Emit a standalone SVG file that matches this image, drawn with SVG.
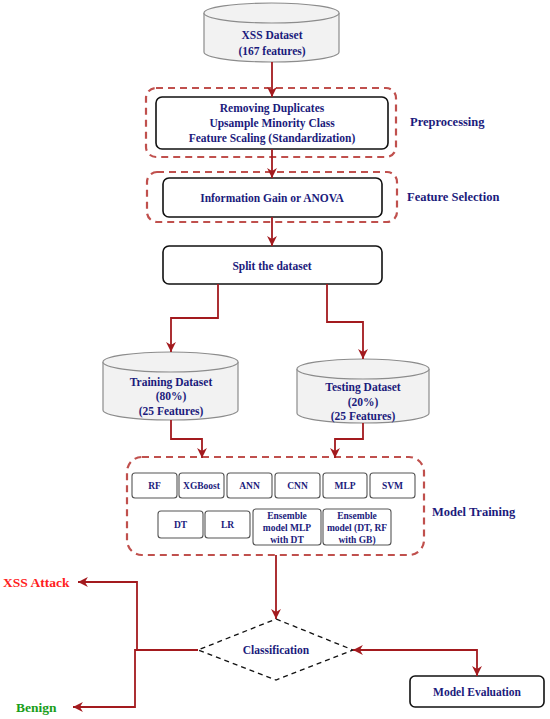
<svg xmlns="http://www.w3.org/2000/svg" width="550" height="719" viewBox="0 0 550 719">
<defs>
<style>
.t{font-family:"Liberation Serif","Times New Roman",serif;font-weight:bold;fill:#1b1b7c;text-anchor:middle;dominant-baseline:central}
.m{font-size:11.5px}
.s{font-size:9.5px}
.lab{font-family:"Liberation Serif","Times New Roman",serif;font-weight:bold;fill:#1b1b7c;font-size:12.5px;dominant-baseline:central}
.out{font-family:"Liberation Serif","Times New Roman",serif;font-weight:bold;font-size:13.5px;dominant-baseline:central}
.cyl{fill:#f2f2f2;stroke:#8c8c8c;stroke-width:1.2}
.dash{fill:none;stroke:#c0504d;stroke-width:2.2;stroke-dasharray:7 5}
.box{fill:#fff;stroke:#111;stroke-width:1.6}
.mbox{fill:#fff;stroke:#555;stroke-width:1.1}
.con{fill:none;stroke:#a31a1e;stroke-width:1.8}
</style>
<marker id="ah" viewBox="0 0 10 10" refX="10" refY="5" markerWidth="5.5" markerHeight="5.5" orient="auto-start-reverse" markerUnits="strokeWidth">
<path d="M0,0 L10,5 L0,10 L3,5 Z" fill="#a31a1e"/>
</marker>
</defs>
<rect width="550" height="719" fill="#fff"/>

<g id="xss-dataset">
<path class="cyl" d="M204,13 A67.5,10 0 0 1 339,13 V52 A67.5,10 0 0 1 204,52 Z"/>
<path class="cyl" fill="none" d="M204,13 A67.5,10 0 0 0 339,13"/>
<text class="t m" x="272" y="35">XSS Dataset</text>
<text class="t m" x="272" y="51">(167 features)</text>
</g>

<g id="preprocessing">
<rect class="dash" x="146" y="88" width="250" height="69" rx="10"/>
<rect class="box" x="156" y="97" width="232" height="52" rx="6"/>
<text class="t m" x="272" y="108">Removing Duplicates</text>
<text class="t m" x="272" y="123">Upsample Minority Class</text>
<text class="t m" x="272" y="138">Feature Scaling (Standardization)</text>
<text class="lab" x="410" y="122">Preprocessing</text>
</g>

<g id="feature-selection">
<rect class="dash" x="147" y="172" width="250" height="50" rx="10"/>
<rect class="box" x="163" y="178" width="219" height="39" rx="6"/>
<text class="t m" x="272" y="198">Information Gain or ANOVA</text>
<text class="lab" x="407" y="197">Feature Selection</text>
</g>

<g id="split">
<rect class="box" x="163" y="246" width="219" height="38" rx="6"/>
<text class="t m" x="272" y="266">Split the dataset</text>
</g>

<g id="training-dataset">
<path class="cyl" d="M103,362 A67.5,10 0 0 1 238,362 V410 A67.5,10 0 0 1 103,410 Z"/>
<path class="cyl" fill="none" d="M103,362 A67.5,10 0 0 0 238,362"/>
<text class="t m" x="171" y="382">Training Dataset</text>
<text class="t m" x="171" y="396">(80%)</text>
<text class="t m" x="171" y="411">(25 Features)</text>
</g>

<g id="testing-dataset">
<path class="cyl" d="M297,369 A66,10 0 0 1 429,369 V413 A66,10 0 0 1 297,413 Z"/>
<path class="cyl" fill="none" d="M297,369 A66,10 0 0 0 429,369"/>
<text class="t m" x="363" y="387">Testing Dataset</text>
<text class="t m" x="363" y="402">(20%)</text>
<text class="t m" x="363" y="416">(25 Features)</text>
</g>

<g id="model-training">
<rect class="dash" x="127" y="457" width="297" height="98" rx="15"/>
<text class="lab" x="432" y="512">Model Training</text>
<g id="rf"><rect class="mbox" x="132" y="473" width="45" height="25" rx="3"/><text class="t s" x="154.5" y="486">RF</text></g>
<g id="xgboost"><rect class="mbox" x="179" y="473" width="45" height="25" rx="3"/><text class="t s" x="201.5" y="486">XGBoost</text></g>
<g id="ann"><rect class="mbox" x="227" y="473" width="45" height="25" rx="3"/><text class="t s" x="249.5" y="486">ANN</text></g>
<g id="cnn"><rect class="mbox" x="275" y="473" width="45" height="25" rx="3"/><text class="t s" x="297.5" y="486">CNN</text></g>
<g id="mlp"><rect class="mbox" x="323" y="473" width="44" height="25" rx="3"/><text class="t s" x="345" y="486">MLP</text></g>
<g id="svm"><rect class="mbox" x="370" y="473" width="45" height="25" rx="3"/><text class="t s" x="392.5" y="486">SVM</text></g>
<g id="dt"><rect class="mbox" x="158" y="511" width="45" height="27" rx="3"/><text class="t s" x="180.5" y="524.5">DT</text></g>
<g id="lr"><rect class="mbox" x="205" y="511" width="45" height="27" rx="3"/><text class="t s" x="227.5" y="524.5">LR</text></g>
<g id="ens1"><rect class="mbox" x="253" y="509" width="68" height="36" rx="3"/>
<text class="t s" x="287" y="515.5">Ensemble</text><text class="t s" x="287" y="527.5">model MLP</text><text class="t s" x="287" y="539.5">with DT</text></g>
<g id="ens2"><rect class="mbox" x="323" y="509" width="68" height="36" rx="3"/>
<text class="t s" x="357" y="515.5">Ensemble</text><text class="t s" x="357" y="527.5">model (DT, RF</text><text class="t s" x="357" y="539.5">with GB)</text></g>
</g>

<g id="classification">
<path d="M276,619 L353,650 L276,680 L198,650 Z" fill="#fff" stroke="#111" stroke-width="1.3" stroke-dasharray="5 4"/>
<text class="t m" x="276" y="650">Classification</text>
</g>

<g id="model-evaluation">
<rect class="box" x="410" y="676" width="134" height="31" rx="5"/>
<text class="t m" x="477" y="692">Model Evaluation</text>
</g>

<g id="xss-attack"><text class="out" fill="#ff2020" x="3" y="582">XSS Attack</text></g>
<g id="benign"><text class="out" fill="#1a9e1a" x="16" y="707">Benign</text></g>

<g id="connectors">
<path class="con" marker-end="url(#ah)" d="M272,62 V97"/>
<path class="con" marker-end="url(#ah)" d="M272,149 V178"/>
<path class="con" marker-end="url(#ah)" d="M272,217 V246"/>
<path class="con" marker-end="url(#ah)" d="M218,284 V318 H171 V352"/>
<path class="con" marker-end="url(#ah)" d="M327,284 V322 H363 V359"/>
<path class="con" marker-end="url(#ah)" d="M171,420 V439 H202 V458"/>
<path class="con" marker-end="url(#ah)" d="M363,423 V439 H335 V458"/>
<path class="con" marker-end="url(#ah)" d="M276,555 V619"/>
<path class="con" marker-end="url(#ah)" d="M198,650 H137 V582 H78"/>
<path class="con" marker-end="url(#ah)" d="M137,650 H135 V707 H73"/>
<path class="con" marker-start="url(#ah)" marker-end="url(#ah)" d="M353,650 H477 V676"/>
</g>
</svg>
